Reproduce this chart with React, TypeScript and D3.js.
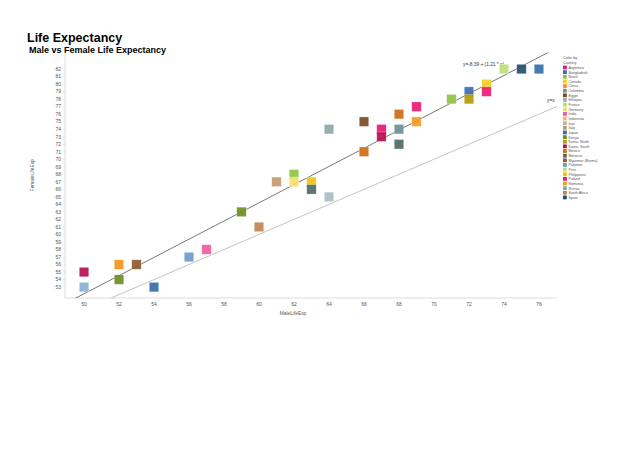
import React from "react";
import * as d3 from "d3";

const legendCountries = [
  "Argentina", "Bangladesh", "Brazil", "Canada", "China", "Colombia", "Egypt", "Ethiopia",
  "France", "Germany", "India", "Indonesia", "Iran", "Italy", "Japan", "Kenya",
  "Korea, North", "Korea, South", "Mexico", "Morocco", "Myanmar (Burma)", "Pakistan",
  "Peru", "Philippines", "Poland", "Romania", "Russia", "South Africa", "Spain",
];

const countryColors = [
  "#e5177b", "#3c6eb4", "#8dc63f", "#f5cf1f", "#f7941e", "#6f8f9a", "#7b4a26", "#8cb0d6",
  "#b9dc74", "#f8dd6e", "#f25ba0", "#fbb26a", "#a8bfc2", "#c79a6d", "#356ea8", "#6b9020",
  "#b59a09", "#b5104f", "#cf6e12", "#4e6a6a", "#8e5a30", "#6a9ad0",
  "#bfe07a", "#f1c40f", "#ec1b73", "#f59b24", "#8aa8a8", "#c08556", "#24506e",
];

const pointCountry = [
  "Korea, South", "Ethiopia", "China", "Kenya", "Myanmar (Burma)", "Japan", "Pakistan", "India",
  "Kenya", "South Africa", "Italy", "Brazil", "Germany", "Philippines", "Morocco", "Iran",
  "Russia", "Egypt", "Mexico", "Argentina", "Korea, South", "Mexico", "Colombia", "Morocco",
  "Poland", "Romania", "Brazil", "Bangladesh", "Korea, North", "Canada", "Poland", "Peru",
  "Spain", "Japan",
];
const maleLifeExp = [
  50, 50, 52, 52, 53, 54, 56, 57,
  59, 60, 61, 62, 62, 63, 63, 64,
  64, 66, 66, 67, 67, 68, 68, 68,
  69, 69, 71, 72, 72, 73, 73, 74,
  75, 76,
];
const femaleLifeExp = [
  55, 53, 56, 54, 56, 53, 57, 58,
  63, 61, 67, 68, 67, 67, 66, 65,
  74, 75, 71, 74, 73, 76, 74, 72,
  77, 75, 78, 79, 78, 80, 79, 82,
  82, 82,
];

const xTicks = [50, 52, 54, 56, 58, 60, 62, 64, 66, 68, 70, 72, 74, 76];
const yTicks = d3.range(53, 83);
const intercept = -8.39;
const slope = 1.21;

export default function App() {
  const left = 65, right = 557, top = 52.5, bottom = 298;
  const x = d3.scaleLinear().domain([48.914, 77.03]).range([left, right]);
  const y = d3.scaleLinear().domain([51.55, 84.2]).range([bottom, top]);
  const color = d3.scaleOrdinal<string, string>().domain(legendCountries).range(countryColors);
  const xd = x.domain();
  const regLine = d3.line<number>().x((v) => x(v)).y((v) => y(intercept + slope * v));
  const idLine = d3.line<number>().x((v) => x(v)).y((v) => y(v));
  const font = "'Liberation Sans', Arial, sans-serif";
  const sq = 9.5;

  return (
    <svg width={638} height={451} style={{ position: "absolute", left: 0, top: 0, background: "#fff" }} fontFamily={font}>
      <text x={27} y={42} fontSize={12.5} fontWeight="bold" fill="#000">Life Expectancy</text>
      <text x={29} y={53} fontSize={9} fontWeight="bold" fill="#000">Male vs Female Life Expectancy</text>

      <defs>
        <clipPath id="plotclip">
          <rect x={left} y={top} width={right - left} height={bottom - top} />
        </clipPath>
      </defs>

      <line x1={left} x2={left} y1={top} y2={bottom} stroke="#d4d4d4" strokeWidth={0.8} />
      <line x1={left} x2={right} y1={bottom} y2={bottom} stroke="#d4d4d4" strokeWidth={0.8} />

      {yTicks.map((t) => (
        <g key={"y" + t}>
          <line x1={left - 1.8} x2={left} y1={y(t)} y2={y(t)} stroke="#ccc" strokeWidth={0.5} />
          <text x={left - 4} y={y(t) + 1.8} fontSize={5} textAnchor="end" fill="#555">{t}</text>
        </g>
      ))}
      {xTicks.map((t) => (
        <text key={"x" + t} x={x(t)} y={bottom + 8} fontSize={5} textAnchor="middle" fill="#555">{t}</text>
      ))}
      <text x={293} y={315} fontSize={4.8} textAnchor="middle" fill="#555">MaleLifeExp</text>
      <text transform={`translate(34,${(top + bottom) / 2}) rotate(-90)`} fontSize={4.8} textAnchor="middle" fill="#555">FemaleLifeExp</text>

      <g clipPath="url(#plotclip)">
        <path d={idLine([xd[0], xd[1]]) || ""} stroke="#aaa" strokeWidth={0.7} fill="none" />
        <path d={regLine([xd[0], xd[1]]) || ""} stroke="#555" strokeWidth={0.8} fill="none" />
      </g>
      <text x={463} y={66} fontSize={4.8} fill="#333">y=-8.39 + (1.21 * x)</text>
      <text x={547} y={102} fontSize={4.8} fill="#333">y=x</text>

      {maleLifeExp.map((m, i) => (
        <rect
          key={"p" + i}
          x={x(m) - sq / 2}
          y={y(femaleLifeExp[i]) - sq / 2}
          width={sq}
          height={sq}
          fill={color(pointCountry[i])}
          fillOpacity={0.92}
          stroke="#fff"
          strokeOpacity={0.5}
          strokeWidth={0.6}
        />
      ))}

      <text x={563} y={59} fontSize={3.8} fill="#555">Color by</text>
      <text x={563} y={63.5} fontSize={3.8} fill="#555">Country</text>
      {legendCountries.map((c, i) => (
        <g key={"l" + c} transform={`translate(563,${67.5 + i * 4.64})`}>
          <rect x={0} y={-1.9} width={3.8} height={3.8} fill={color(c)} />
          <text x={5.5} y={1.4} fontSize={3.6} fill="#555">{c}</text>
        </g>
      ))}
    </svg>
  );
}
